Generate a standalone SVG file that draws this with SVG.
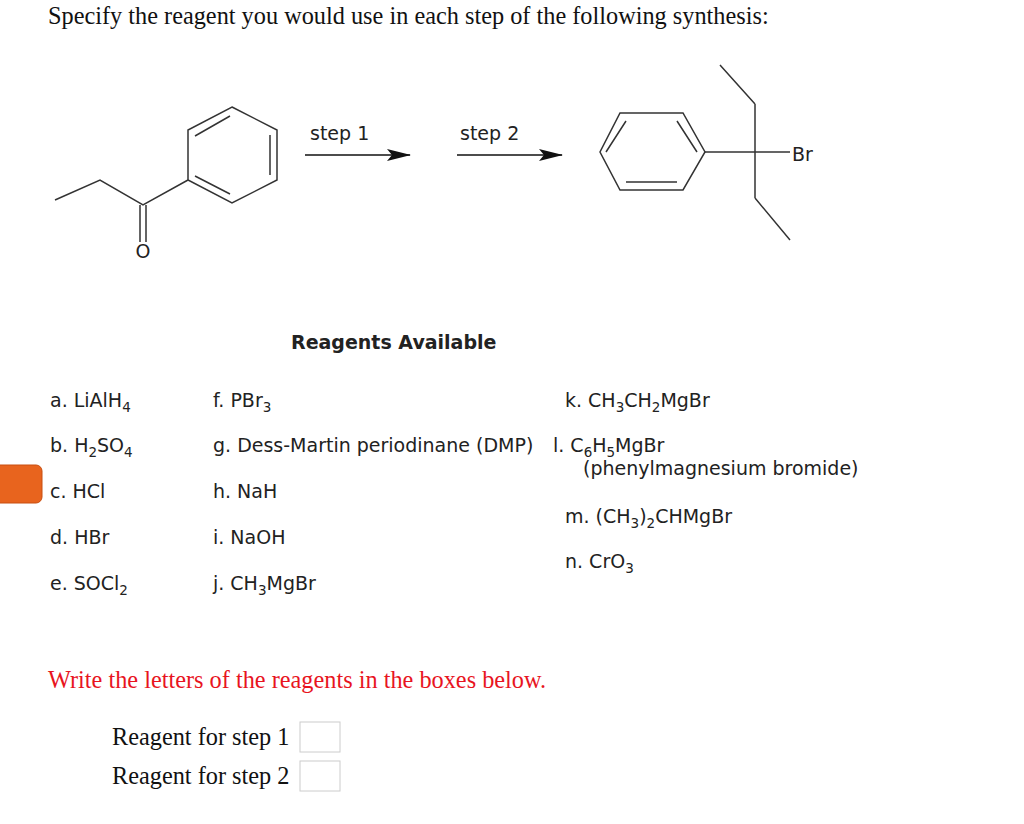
<svg xmlns="http://www.w3.org/2000/svg" width="1024" height="824" viewBox="0 0 1024 824">
<style>
.b{stroke:#333;stroke-width:1.5;fill:none}
.s{font-family:"DejaVu Sans","Liberation Sans",Arial,sans-serif;font-size:19px;fill:#222}
.m{font-family:"Liberation Serif","Times New Roman",serif;font-size:24.3px;fill:#111}
.sub{font-size:13.5px}
</style>
<defs><marker id="ah" markerWidth="24" markerHeight="12" refX="23" refY="6" orient="auto" markerUnits="userSpaceOnUse"><path d="M0,0 L24,6 L0,12 L5,6 Z" fill="#111"/></marker></defs>
<rect width="1024" height="824" fill="#fff"/>
<text class="m" x="48" y="24">Specify the reagent you would use in each step of the following synthesis:</text>
<g id="start">
<path class="b" d="M232,107 L277,130 L277,180 L232,203 L188,180 L188,130 Z"/>
<path class="b" d="M195,136 L230,116 M270,135 L270,175 M230,194 L195,176"/>
<path class="b" d="M188,180 L143,205 L100,180 L55,200"/>
<path class="b" d="M140,205 L140,242 M146,205 L146,242"/>
<text class="s" x="143" y="258" text-anchor="middle">O</text>
</g>
<g id="product">
<path class="b" d="M620,113 L683,113 L705,152 L683,190 L620,190 L600,152 Z"/>
<path class="b" d="M626,121 L606,152 M677,121 L697,152 M626,182 L677,182"/>
<path class="b" d="M705,152 L790,152 M755,104 L755,198 M755,104 L720,65 M755,198 L790,240"/>
<text class="s" x="792" y="161" font-size="20">Br</text>
</g>
<g id="connectors">
<line x1="305" y1="155" x2="410" y2="155" stroke="#111" stroke-width="1.6" marker-end="url(#ah)"/>
<line x1="457" y1="155" x2="562" y2="155" stroke="#111" stroke-width="1.6" marker-end="url(#ah)"/>
</g>
<text class="s" x="310" y="140" font-size="23">step 1</text>
<text class="s" x="460" y="140" font-size="23">step 2</text>
<text class="s" x="291" y="349" font-weight="bold" font-size="18.5">Reagents Available</text>
<g class="s">
<text x="50" y="407">a. LiAlH<tspan class="sub" dy="5">4</tspan></text>
<text x="50" y="452">b. H<tspan class="sub" dy="5">2</tspan><tspan dy="-5">SO</tspan><tspan class="sub" dy="5">4</tspan></text>
<text x="50" y="498">c. HCl</text>
<text x="50" y="544">d. HBr</text>
<text x="50" y="590">e. SOCl<tspan class="sub" dy="5">2</tspan></text>
<text x="213" y="407">f. PBr<tspan class="sub" dy="5">3</tspan></text>
<text x="213" y="452">g. Dess-Martin periodinane (DMP)</text>
<text x="213" y="498">h. NaH</text>
<text x="213" y="544">i. NaOH</text>
<text x="213" y="590">j. CH<tspan class="sub" dy="5">3</tspan><tspan dy="-5">MgBr</tspan></text>
<text x="565" y="407">k. CH<tspan class="sub" dy="5">3</tspan><tspan dy="-5">CH</tspan><tspan class="sub" dy="5">2</tspan><tspan dy="-5">MgBr</tspan></text>
<text x="553" y="452">l. C<tspan class="sub" dy="5">6</tspan><tspan dy="-5">H</tspan><tspan class="sub" dy="5">5</tspan><tspan dy="-5">MgBr</tspan></text>
<text x="583" y="475">(phenylmagnesium bromide)</text>
<text x="565" y="523">m. (CH<tspan class="sub" dy="5">3</tspan><tspan dy="-5">)</tspan><tspan class="sub" dy="5">2</tspan><tspan dy="-5">CHMgBr</tspan></text>
<text x="565" y="568">n. CrO<tspan class="sub" dy="5">3</tspan></text>
</g>
<rect x="-8" y="465" width="50" height="38" rx="6" fill="#e8641e" stroke="#c84e10"/>
<text class="m" x="48" y="688" style="fill:#e8141e">Write the letters of the reagents in the boxes below.</text>
<text class="m" x="112" y="745">Reagent for step 1</text>
<text class="m" x="112" y="784">Reagent for step 2</text>
<rect x="300" y="722" width="40" height="30" fill="#fff" stroke="#ccc"/>
<rect x="300" y="761" width="40" height="30" fill="#fff" stroke="#ccc"/>
</svg>
